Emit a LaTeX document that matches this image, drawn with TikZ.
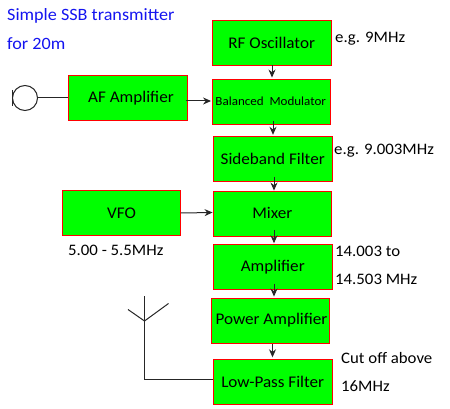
\documentclass[tikz,border=0pt]{standalone}
\usepackage{fontspec}
\setmainfont[FakeStretch=1.05]{Carlito}
\usetikzlibrary{arrows.meta,calc}
\definecolor{boxgreen}{RGB}{0,255,0}
\definecolor{titleblue}{RGB}{20,20,240}
\tikzset{
  blk/.style={draw=red,fill=boxgreen,line width=0.9pt,minimum width=#1,minimum height=45pt,inner sep=0pt,font=\fontsize{16.3}{19}\selectfont,text=black},
  blk/.default=119pt,
  note/.style={anchor=west,inner sep=0pt,font=\fontsize{16}{18}\selectfont,text=black},
  wire/.style={line width=1pt,black!85},
  flow/.style={wire,-{Stealth[length=8pt,width=7pt]}}
}
\begin{document}
\begin{tikzpicture}[x=1pt,y=-1pt]
\useasboundingbox (0,0) rectangle (450,409);
\node[blk] (rf) at (271.75,42.75) {RF Oscillator};
\node[blk=118.5pt,font=\fontsize{12.4}{15}\selectfont] (bm) at (271.25,101.5) {\hspace{-1pt}Balanced\ \ Modulator};
\node[blk] (sb) at (272.75,158.75) {Sideband Filter};
\node[blk=118.5pt] (mx) at (272.25,214) {\raisebox{1.5pt}{Mixer}};
\node[blk] (am) at (272.75,266.75) {Amplifier};
\node[blk=118pt] (pa) at (270.5,320.5) {\hspace{2pt}Power Amplifier};
\node[blk] (lp) at (272.75,381.75) {Low-Pass Filter};
\node[blk] (af) at (128,98) {\hspace{6pt}AF Amplifier};
\node[blk=118pt] (vfo) at (121.5,213) {VFO};

\node[draw=black,wire,circle,minimum size=25pt,inner sep=0pt] (mic) at (25,98) {};
\draw[wire] (mic.east) -- (af.west);
\draw[wire] ($(mic.center)+(-12.5,-8)$) -- ($(mic.center)+(-12.5,8)$);

\draw[flow] ($(rf.south)+(0.25,-1)$) -- ($(bm.north)+(0.75,-1)$);
\draw[flow] ($(bm.south)+(1.75,-3)$) -- ($(sb.north)+(0.25,-1)$);
\draw[flow] ($(sb.south)+(1.25,-5)$) -- ($(mx.north)+(1.75,-0.5)$);
\draw[flow] ($(mx.south)+(1.75,-7)$) -- ($(am.north)+(1.25,-0.5)$);
\draw[flow] ($(am.south)+(1.25,-6)$) -- ($(pa.north)+(3.5,-1)$);
\draw[flow] ($(pa.south)+(2,1)$) -- ($(lp.north)+(-0.25,-1.5)$);
\draw[flow] ($(af.east)+(-1.5,3)$) -- ($(bm.west)+(-0.5,-0.5)$);
\draw[flow] (vfo.east) -- ($(mx.west)+(0,-1.5)$);

\coordinate (ajun) at (144.5,321);
\coordinate (atop) at (144.5,296);
\coordinate (aleft) at (128,309.5);
\coordinate (aright) at (168.5,303.5);
\coordinate (acorner) at (144.5,379);
\draw[wire] (atop) -- (acorner) -- (acorner -| lp.west);
\draw[wire] (aleft) -- (ajun) -- (aright);

\node[note,text=titleblue,font=\fontsize{17.3}{20}\selectfont] (t1) at (7,16) {Simple SSB transmitter};
\node[note,text=titleblue,font=\fontsize{17.3}{20}\selectfont] (t2) at (7,44) {for 20m};
\node[note] (n1) at (335,39) {e.g. 9MHz};
\node[note] (n2) at (334,151) {e.g. 9.003MHz};
\node[note] (n3) at (68,250) {5.00 - 5.5MHz};
\node[note] (n4) at (335,251) {14.003 to};
\node[note] (n5) at (335,279) {14.503 MHz};
\node[note] (n6) at (341,358) {Cut off above};
\node[note] (n7) at (341,386) {16MHz};
\end{tikzpicture}
\end{document}
